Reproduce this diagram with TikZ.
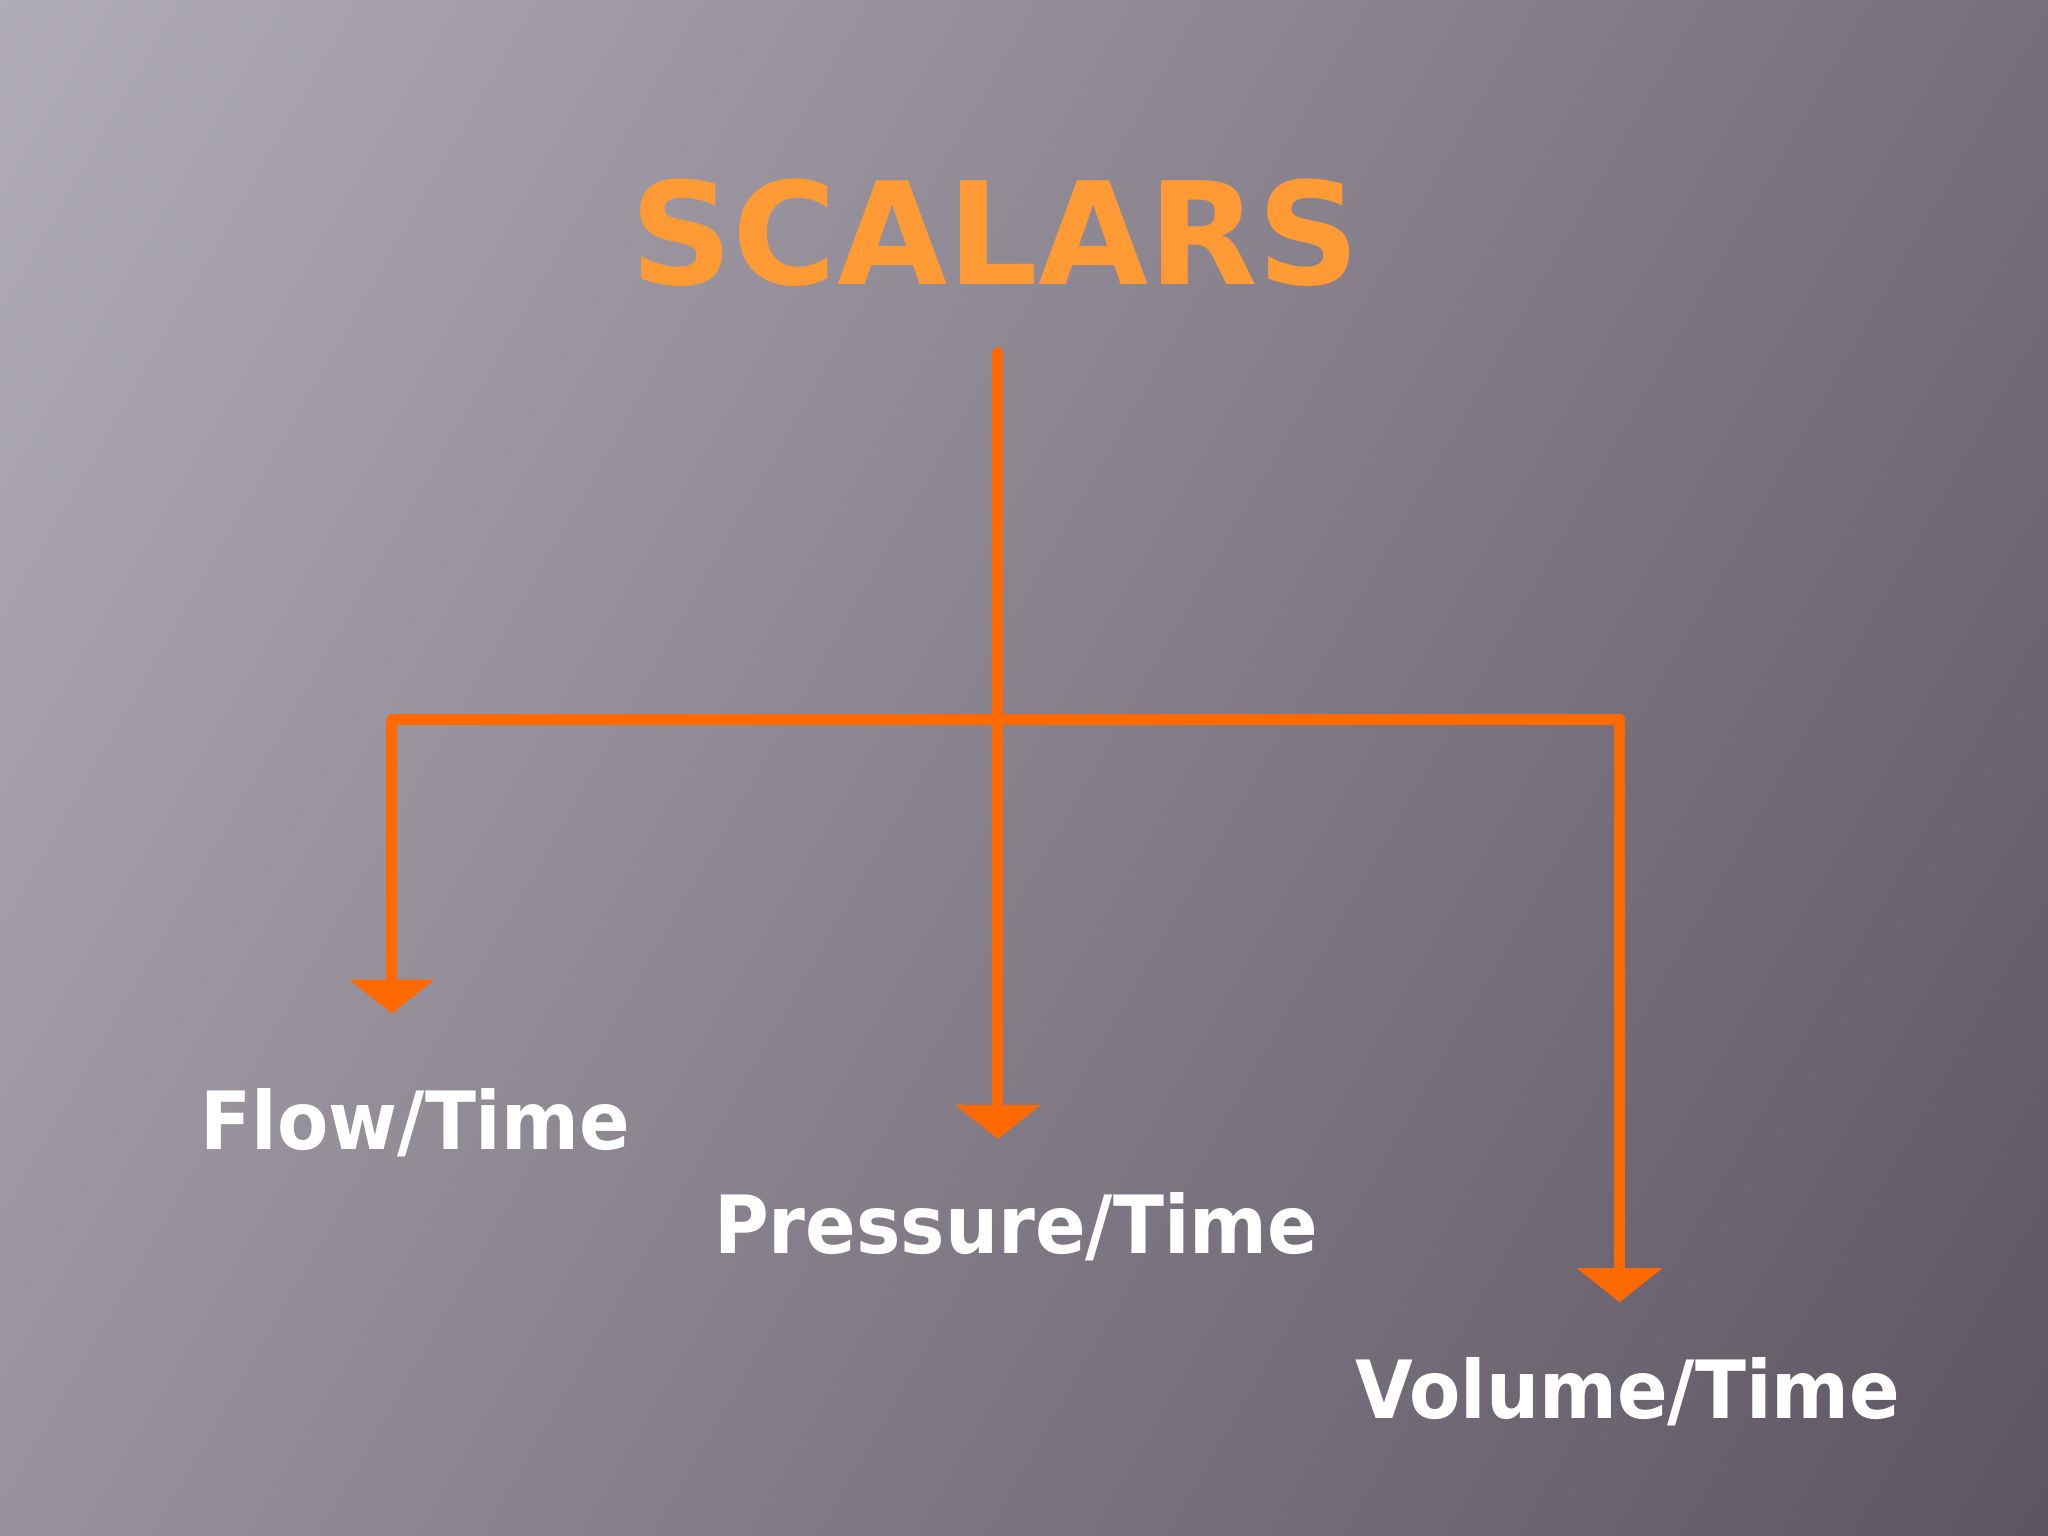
\documentclass[tikz,border=0pt]{standalone}
\usepackage{fontspec}
\setmainfont{DejaVu Sans}
\newfontfamily\lblfont[FakeStretch=0.93]{DejaVu Sans}
\usetikzlibrary{arrows.meta}
\definecolor{org}{HTML}{FF6A00}
\definecolor{ttl}{HTML}{FF9A35}
\definecolor{bgl}{HTML}{B2AEB8}
\definecolor{bgd}{HTML}{5C5360}
\begin{document}
\begin{tikzpicture}[x=1cm,y=1cm,
  conn/.style={draw=org,line width=2.4pt,line cap=round},
  tipconn/.style={conn,-{Triangle[width=0.64cm,length=0.26cm]}},
  lbl/.style={text=white,font=\lblfont\fontsize{17.5}{20}\selectfont\bfseries,inner sep=0pt}]
\useasboundingbox (0,0) rectangle (15.68,-11.76);
\shade[shading=axis,left color=bgl,right color=bgd,shading angle=60] (-3,3) rectangle (18.68,-14.76);
\clip (0,0) rectangle (15.68,-11.76);
\node[text=ttl,font=\fontsize{31}{36}\selectfont\bfseries,inner sep=0pt] (title) at (7.62,-1.78) {SCALARS};
\coordinate (top) at (7.64,-2.70);
\coordinate (lft) at (3.00,-5.51);
\coordinate (rgt) at (12.40,-5.51);
\coordinate (lt) at (3.00,-7.76);
\coordinate (mt) at (7.64,-8.72);
\coordinate (rt) at (12.40,-9.97);
\node[lbl,anchor=base west] (flow) at (1.53,-8.80) {Flow/Time};
\node[lbl,anchor=base west] (press) at (5.46,-9.60) {Pressure/Time};
\node[lbl,anchor=base west] (vol) at (10.37,-10.86) {Volume/Time};
\draw[conn] (lft) -- (rgt);
\draw[tipconn] (top) -- (mt);
\draw[tipconn] (lft) -- (lt);
\draw[tipconn] (rgt) -- (rt);
\end{tikzpicture}
\end{document}
